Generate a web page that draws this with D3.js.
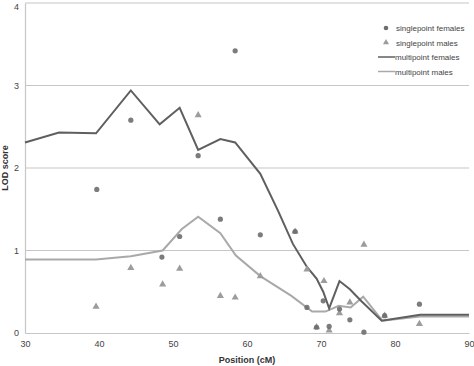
<!DOCTYPE html>
<html>
<head>
<meta charset="utf-8">
<script src="https://cdn.jsdelivr.net/npm/d3@7"></script>
<style>
  body { margin: 0; background: #fff; }
  text { font-family: "Liberation Sans Narrow", "Liberation Sans", Arial, sans-serif; }
</style>
</head>
<body>
<div id="chart"></div>
<script>
// multipoint curves
var multiFemalePos = [30, 34.6, 39.6, 44.3, 48.2, 50.9, 53.4, 56.4, 58.4, 61.8, 64.2, 66.2, 68.1, 69.4, 70.3, 71.1, 72.5, 73.9, 75.3, 78.2, 83.4, 90];
var multiFemaleLod = [2.31, 2.43, 2.42, 2.94, 2.53, 2.73, 2.22, 2.35, 2.31, 1.93, 1.48, 1.08, 0.80, 0.66, 0.50, 0.30, 0.63, 0.53, 0.40, 0.15, 0.22, 0.22];

var multiMalePos = [30, 39.6, 44.3, 48.6, 51.2, 53.4, 56.4, 58.5, 61.8, 66.0, 68.8, 70.6, 72.4, 74.0, 75.7, 78.3, 83.4, 90];
var multiMaleLod = [0.89, 0.89, 0.93, 1.00, 1.26, 1.41, 1.21, 0.94, 0.69, 0.45, 0.26, 0.26, 0.33, 0.31, 0.44, 0.15, 0.20, 0.20];

// singlepoint results
var singleFemalePos = [39.7, 44.3, 48.5, 50.9, 53.4, 56.4, 58.4, 61.8, 66.5, 68.1, 69.4, 70.3, 71.1, 72.5, 73.9, 75.8, 78.6, 83.3];
var singleFemaleLod = [1.74, 2.58, 0.92, 1.17, 2.15, 1.38, 3.42, 1.19, 1.23, 0.31, 0.07, 0.39, 0.08, 0.29, 0.16, 0.01, 0.21, 0.35];

var singleMalePos = [39.6, 44.3, 48.6, 50.9, 53.4, 56.4, 58.4, 61.8, 66.5, 68.1, 69.4, 70.4, 71.1, 72.5, 73.9, 75.8, 78.6, 83.3];
var singleMaleLod = [0.32, 0.79, 0.59, 0.78, 2.64, 0.45, 0.43, 0.69, 1.23, 0.77, 0.07, 0.63, 0.03, 0.24, 0.37, 1.07, 0.21, 0.11];

var xTicks = [30, 40, 50, 60, 70, 80, 90];
var yTicks = [0, 1, 2, 3, 4];

var legendLabels = ["singlepoint females", "singlepoint males", "multipoint females", "multipoint males"];

const width = 474, height = 366;
const margin = {top: 3, right: 5, bottom: 33, left: 25};

const svg = d3.select("#chart").append("svg")
    .attr("width", width)
    .attr("height", height);

const x = d3.scaleLinear().domain([30, 90]).range([margin.left, width - margin.right]);
const y = d3.scaleLinear().domain([0, 4]).range([height - margin.bottom, margin.top]);

// gridlines
svg.append("g")
    .selectAll("line")
    .data(yTicks.filter(d => d > 0))
  .enter().append("line")
    .attr("x1", x(30)).attr("x2", x(90))
    .attr("y1", d => y(d)).attr("y2", d => y(d))
    .attr("stroke", "#c6c6c6")
    .attr("stroke-width", 1.2);

// axes
const xAxis = svg.append("g")
    .attr("transform", `translate(0,${y(0)})`)
    .call(d3.axisBottom(x).tickValues(xTicks).tickSize(0).tickPadding(8).tickFormat(d3.format("d")));
xAxis.select(".domain").attr("stroke", "#c6c6c6").attr("stroke-width", 1.2);
xAxis.selectAll("text").attr("font-size", 9).attr("fill", "#444");

const yAxis = svg.append("g")
    .attr("transform", `translate(${x(30)},0)`)
    .call(d3.axisLeft(y).tickValues(yTicks).tickSize(0).tickPadding(6).tickFormat(d3.format("d")));
yAxis.select(".domain").attr("stroke", "#c6c6c6").attr("stroke-width", 1.2);
yAxis.selectAll("text").attr("font-size", 9).attr("fill", "#444");
// keep the top label inside the frame
yAxis.selectAll(".tick text").filter(d => d === 4).attr("dy", "0.72em");

// axis titles
svg.append("text")
    .attr("x", (x(30) + x(90)) / 2)
    .attr("y", 363)
    .attr("text-anchor", "middle")
    .attr("font-size", 9)
    .attr("font-weight", "bold")
    .attr("fill", "#333")
    .text("Position (cM)");

svg.append("text")
    .attr("transform", `translate(8,${y(2)}) rotate(-90)`)
    .attr("text-anchor", "middle")
    .attr("font-size", 9)
    .attr("font-weight", "bold")
    .attr("fill", "#333")
    .text("LOD score");

// lines
const line = d3.line()
    .x(d => x(d[0]))
    .y(d => y(d[1]));

svg.append("path")
    .datum(multiMalePos.map((p, i) => [p, multiMaleLod[i]]))
    .attr("d", line)
    .attr("fill", "none")
    .attr("stroke", "#a9a9a9")
    .attr("stroke-width", 2);

svg.append("path")
    .datum(multiFemalePos.map((p, i) => [p, multiFemaleLod[i]]))
    .attr("d", line)
    .attr("fill", "none")
    .attr("stroke", "#5f5f5f")
    .attr("stroke-width", 2);

// singlepoint markers
const tri = d3.symbol().type(d3.symbolTriangle).size(22);

svg.append("g")
    .selectAll("path")
    .data(singleMalePos.map((p, i) => [p, singleMaleLod[i]]))
  .enter().append("path")
    .attr("d", tri)
    .attr("transform", d => `translate(${x(d[0])},${y(d[1])})`)
    .attr("fill", "#9c9c9c");

svg.append("g")
    .selectAll("circle")
    .data(singleFemalePos.map((p, i) => [p, singleFemaleLod[i]]))
  .enter().append("circle")
    .attr("cx", d => x(d[0]))
    .attr("cy", d => y(d[1]))
    .attr("r", 2.6)
    .attr("fill", "#6e6e6e")
    .attr("fill-opacity", 0.9);

// legend
const legend = svg.append("g").attr("transform", "translate(378,28)");
legendLabels.forEach(function (label, i) {
    const g = legend.append("g").attr("transform", `translate(0,${i * 14.5})`);
    if (i === 0) {
        g.append("circle").attr("cx", 8).attr("cy", 0).attr("r", 2.3).attr("fill", "#6e6e6e");
    } else if (i === 1) {
        g.append("path").attr("d", d3.symbol().type(d3.symbolTriangle).size(16))
            .attr("transform", "translate(8,0)").attr("fill", "#9c9c9c");
    } else {
        g.append("line").attr("x1", 0).attr("x2", 17).attr("y1", 0).attr("y2", 0)
            .attr("stroke", i === 2 ? "#5f5f5f" : "#a9a9a9").attr("stroke-width", 1.5);
    }
    g.append("text")
        .attr("x", i < 2 ? 18 : 17)
        .attr("y", 3)
        .attr("font-size", 8)
        .attr("fill", "#444")
        .text(label);
});
</script>
</body>
</html>
